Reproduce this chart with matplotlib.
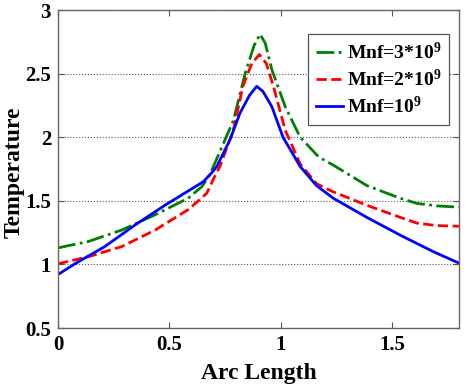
import matplotlib
matplotlib.use("Agg")
import matplotlib.pyplot as plt

plt.rcParams['font.family'] = 'Liberation Serif'
plt.rcParams['font.weight'] = 'bold'
plt.rcParams['mathtext.fontset'] = 'custom'
plt.rcParams['mathtext.rm'] = 'Liberation Serif:bold'
plt.rcParams['mathtext.default'] = 'rm'

# Mnf = 3*10^9 (green, dash-dot)
x_green = [0, 0.136, 0.286, 0.436, 0.584, 0.645, 0.68, 0.72, 0.787, 0.84, 0.88, 0.907,
           0.93, 0.96, 1.02, 1.087, 1.17, 1.236, 1.386, 1.536, 1.61, 1.70, 1.80]
y_green = [1.13, 1.18, 1.27, 1.39, 1.52, 1.61, 1.70, 1.86, 2.13, 2.50, 2.72, 2.81,
           2.74, 2.53, 2.24, 2.00, 1.845, 1.78, 1.62, 1.52, 1.48, 1.46, 1.45]

# Mnf = 2*10^9 (red, dashed)
x_red = [0, 0.136, 0.286, 0.436, 0.584, 0.63, 0.668, 0.70, 0.727, 0.787, 0.83, 0.87, 0.904,
         0.935, 0.967, 1.02, 1.087, 1.16, 1.236, 1.386, 1.536, 1.61, 1.70, 1.80]
y_red = [1.005, 1.06, 1.14, 1.27, 1.43, 1.50, 1.56, 1.68, 1.77, 2.055, 2.40, 2.58, 2.65,
         2.58, 2.40, 2.055, 1.79, 1.635, 1.57, 1.465, 1.37, 1.325, 1.305, 1.30]

# Mnf = 10^9 (blue, solid)
x_blue = [0, 0.076, 0.21, 0.346, 0.48, 0.615, 0.652, 0.69, 0.713, 0.772, 0.817, 0.86, 0.892,
          0.92, 0.96, 1.01, 1.087, 1.16, 1.236, 1.386, 1.536, 1.685, 1.80]
y_blue = [0.92, 1.005, 1.14, 1.31, 1.465, 1.61, 1.65, 1.72, 1.77, 1.98, 2.19, 2.33, 2.40,
          2.36, 2.24, 2.00, 1.77, 1.62, 1.52, 1.37, 1.23, 1.10, 1.01]

labels = ['Mnf=3*10$^{9}$', 'Mnf=2*10$^{9}$', 'Mnf=10$^{9}$']
x_ticks = [0, 0.5, 1, 1.5]
x_tick_labels = ['0', '0.5', '1', '1.5']
y_ticks = [0.5, 1, 1.5, 2, 2.5, 3]
y_tick_labels = ['0.5', '1', '1.5', '2', '2.5', '3']

W, H = 474, 387
fig = plt.figure(figsize=(W / 100, H / 100), dpi=100)
ax = fig.add_axes([58 / W, 1 - 328 / H, 401 / W, 318 / H])

ax.plot(x_green, y_green, linestyle='-.', color='#007f00', lw=2.0, label=labels[0])
ax.plot(x_red, y_red, linestyle='--', color='#ff0000', lw=2.0, label=labels[1])
ax.plot(x_blue, y_blue, linestyle='-', color='#0000ff', lw=2.0, label=labels[2])

ax.set_xlim(0, 1.8)
ax.set_ylim(0.5, 3)
ax.set_xticks(x_ticks)
ax.set_xticklabels(x_tick_labels)
ax.set_yticks(y_ticks)
ax.set_yticklabels(y_tick_labels)
ax.tick_params(direction='in', top=True, right=True, labelsize=15, length=4,
               color='#555555', pad=5)
ax.yaxis.grid(True, linestyle=':', color='#555555', lw=0.8)
for s in ax.spines.values():
    s.set_color('#666666')
    s.set_linewidth(1.0)

fig.text(258.5 / W, 1 - 374 / H, 'Arc Length', fontsize=17, fontweight='bold',
         ha='center', va='center')
fig.text(14 / W, 1 - 172 / H, 'Temperature', fontsize=17, fontweight='bold',
         ha='center', va='center', rotation=90)

leg = ax.legend(loc='upper right', bbox_to_anchor=((449 - 58) / 401, (328 - 34) / 318),
                fontsize=14, handlelength=1.4, handletextpad=0.2,
                borderaxespad=0, fancybox=False, framealpha=1, edgecolor='#555555',
                labelspacing=0.3, borderpad=0.4)
leg.get_frame().set_linewidth(0.9)

fig.savefig('out.png', dpi=100)
